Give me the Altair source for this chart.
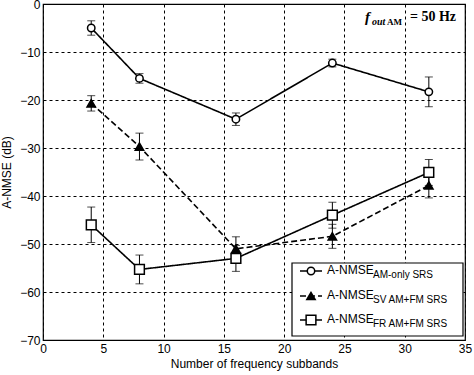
import altair as alt
import pandas as pd

# ---- data ----
subbands = [4, 8, 16, 24, 32]
am_only = [-5.0, -15.5, -24.0, -12.3, -18.3]
am_only_err = [1.5, 1.0, 1.3, 0.8, 3.1]
sv_amfm = [-20.7, -29.7, -51.0, -48.4, -37.8]
sv_amfm_err = [1.6, 2.8, 2.5, 2.5, 2.6]
fr_amfm = [-46.0, -55.3, -53.0, -44.0, -35.1]
fr_amfm_err = [3.7, 3.0, 2.7, 2.7, 2.7]

series_names = ["AM-only", "SV", "FR"]
legend_main = ["A-NMSE", "A-NMSE", "A-NMSE"]
legend_sub = ["AM-only SRS", "SV AM+FM SRS", "FR AM+FM SRS"]
x_ticks = [0, 5, 10, 15, 20, 25, 30, 35]
y_ticks = [0, -10, -20, -30, -40, -50, -60, -70]

W, H = 422, 336
FONT = "Liberation Sans"

def frame(vals, errs, name):
    return pd.DataFrame({
        "x": subbands, "y": vals,
        "lo": [v - e for v, e in zip(vals, errs)],
        "hi": [v + e for v, e in zip(vals, errs)],
        "s": name,
    })

dfs = [frame(am_only, am_only_err, series_names[0]),
       frame(sv_amfm, sv_amfm_err, series_names[1]),
       frame(fr_amfm, fr_amfm_err, series_names[2])]

xs = alt.Scale(domain=[0, 35], nice=False, zero=False)
ys = alt.Scale(domain=[-70, 0], nice=False, zero=False)
xenc = alt.X("x:Q", scale=xs, axis=alt.Axis(values=x_ticks, title="Number of frequency subbands",
                                            grid=True, labelFlush=False))
yenc = alt.Y("y:Q", scale=ys, axis=alt.Axis(values=y_ticks, title="A-NMSE (dB)", grid=True))

styles = [
    dict(shape="circle", filled=False, dash=[1, 0], size=55, fill="white"),
    dict(shape="triangle-up", filled=True, dash=[6, 3], size=70, fill="black"),
    dict(shape="square", filled=False, dash=[1, 0], size=95, fill="white"),
]

layers = []
for df, st in zip(dfs, styles):
    base = alt.Chart(df)
    layers.append(base.mark_line(color="black", strokeWidth=1.6, strokeDash=st["dash"]).encode(x=xenc, y=yenc))
    layers.append(base.mark_rule(color="black", strokeWidth=1).encode(x="x:Q", y="lo:Q", y2="hi:Q"))
    layers.append(base.mark_tick(color="black", thickness=1, size=8, orient="horizontal").encode(x="x:Q", y="lo:Q"))
    layers.append(base.mark_tick(color="black", thickness=1, size=8, orient="horizontal").encode(x="x:Q", y="hi:Q"))
    layers.append(base.mark_point(shape=st["shape"], filled=True, fill=st["fill"], stroke="black",
                                  strokeWidth=1.5, size=st["size"], opacity=1).encode(x="x:Q", y="y:Q"))

# ---- legend box (drawn manually to allow subscripts) ----
one = pd.DataFrame({"k": [0]})
lg = alt.Chart(one)
layers.append(lg.mark_rect(fill="white", stroke="black", strokeWidth=1.2).encode(
    x=alt.value(249), x2=alt.value(420), y=alt.value(259), y2=alt.value(332)))
row_y = [267, 292, 316]
for i, (ry, st) in enumerate(zip(row_y, styles)):
    layers.append(lg.mark_rule(color="black", strokeWidth=1.6, strokeDash=st["dash"]).encode(
        x=alt.value(257), x2=alt.value(279), y=alt.value(ry)))
    layers.append(lg.mark_point(shape=st["shape"], filled=True, fill=st["fill"], stroke="black",
                                strokeWidth=1.5, size=st["size"], opacity=1).encode(
        x=alt.value(268), y=alt.value(ry)))
    layers.append(lg.mark_text(text=legend_main[i], font=FONT, fontSize=12, align="left",
                               baseline="middle", color="black").encode(
        x=alt.value(284), y=alt.value(ry - 1)))
    layers.append(lg.mark_text(text=legend_sub[i], font=FONT, fontSize=10, align="left",
                               baseline="middle", color="black").encode(
        x=alt.value(330), y=alt.value(ry + 4)))

# ---- annotation f_outAM = 50 Hz ----
SERIF = "Liberation Serif"
layers.append(lg.mark_text(text="f", font=SERIF, fontSize=15, fontStyle="italic", fontWeight="bold",
                           align="left", baseline="middle", color="black").encode(
    x=alt.value(322), y=alt.value(13)))
layers.append(lg.mark_text(text="out", font=SERIF, fontSize=10, fontStyle="italic", fontWeight="bold",
                           align="left", baseline="middle", color="black").encode(
    x=alt.value(329), y=alt.value(18)))
layers.append(lg.mark_text(text="AM", font=SERIF, fontSize=9, fontWeight="bold",
                           align="left", baseline="middle", color="black").encode(
    x=alt.value(344), y=alt.value(18)))
layers.append(lg.mark_text(text="= 50 Hz", font=SERIF, fontSize=14, fontWeight="bold",
                           align="left", baseline="middle", color="black").encode(
    x=alt.value(367), y=alt.value(13)))

chart = alt.layer(*layers).properties(
    width=W, height=H,
    autosize=alt.AutoSizeParams(type="none"),
    padding={"left": 43, "top": 4, "right": 9, "bottom": 35},
).configure_view(
    stroke="black", strokeWidth=1.2
).configure_axis(
    labelFont=FONT, titleFont=FONT, labelFontSize=12, titleFontSize=12,
    labelColor="black", titleColor="black", titleFontWeight="normal",
    domain=False, ticks=False, labelPadding=3,
    gridColor="black", gridOpacity=1, gridDash=[3, 3], gridWidth=1,
).configure_axisX(titlePadding=4).configure_axisY(titlePadding=6)

chart.save("out.html", embed_options={"renderer": "svg", "actions": False})
